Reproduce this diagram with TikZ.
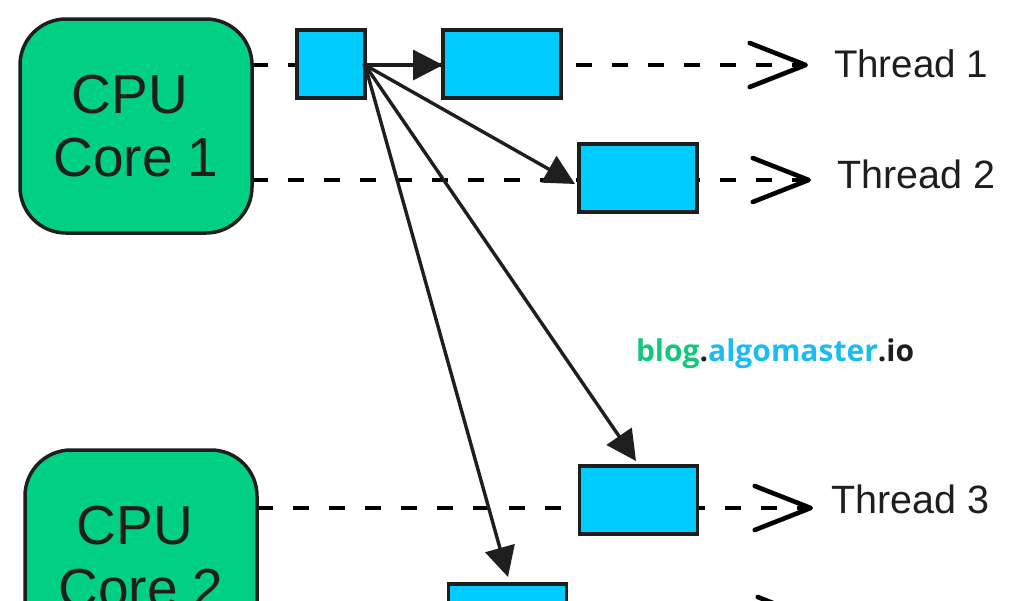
\documentclass[tikz,border=0pt]{standalone}
\usepackage{fontspec}
\setmainfont{Liberation Sans}
\newfontfamily\markfont{Open Sans}
\usetikzlibrary{arrows.meta,backgrounds}
\definecolor{inkdark}{HTML}{1E1E1E}
\definecolor{coregreen}{HTML}{00D084}
\definecolor{taskblue}{HTML}{00CCFF}
\definecolor{markgreen}{HTML}{14C77F}
\definecolor{markblue}{HTML}{1CBBF5}
\tikzset{
  core/.style={draw=inkdark,fill=coregreen,rounded corners=46pt,minimum width=232pt,minimum height=214pt,
    text=inkdark,align=center,font=\fontsize{55}{63}\selectfont},
  task/.style={draw=inkdark,fill=taskblue,minimum width=#1,minimum height=68pt},
  task/.default=118pt,
  label/.style={text=inkdark,anchor=base west,font=\fontsize{#1}{46}\selectfont},
  label/.default=38.5,
  threadline/.style={line width=3.4pt,dash pattern=on 16pt off 20pt,
    -{Straight Barb[length=56pt,width=44pt,line width=4.6pt,round]}},
  flow/.style={line width=3.4pt,-{Triangle[length=30pt,width=30pt]},shorten <=-1pt},
  every picture/.style={line width=3.5pt,inner sep=0pt,outer sep=0pt,line cap=round,color=inkdark},
}

\begin{document}
\begin{tikzpicture}[x=1pt,y=-1pt]
  \useasboundingbox (0,0) rectangle (1015,600);
  \clip (0,0) rectangle (1015,600);
  % cores
  \node[core] (core1) at (136,126){CPU\hspace*{12pt}\\Core 1};
  \node[core] (core2) at (141,557){CPU\hspace*{12pt}\\Core 2};
  % tasks
  \node[task=68pt] (small) at (331,64){};
  \node[task] (task1) at (502,64){};
  \node[task] (task2) at (638,178){};
  \node[task] (task3) at (638.5,500){};
  \node[task] (task4) at (507.5,618){};
  % free ends
  \coordinate (tip1) at (808,65);
  \coordinate (tip2) at (811,180);
  \coordinate (tip3) at (813,508);
  \coordinate (tip4) at (816,619);
  \coordinate (in1) at (443,65);
  \coordinate (in2) at (575,184);
  \coordinate (in3) at (636,461);
  \coordinate (in4) at (508,577);
  % the threads run behind the boxes
  \begin{pgfonlayer}{background}
    \draw[threadline] (core1.east |- tip1) -- (tip1);
    \draw[threadline] (core1.east |- tip2) -- (tip2);
    \draw[threadline] (core2.east |- tip3) -- (tip3);
    \draw[threadline] (core2.east |- tip4) -- (tip4);
  \end{pgfonlayer}
  % moves between the tasks
  \draw[flow] (small.east |- in1) -- (in1);
  \draw[flow] (small.east |- in1) -- (in2);
  \draw[flow] (small.east |- in1) -- (in3);
  \draw[flow] (small.east |- in1) -- (in4);
  % names
  \node[label] (name1) at (834,77){Thread 1};
  \node[label=39.5] (name2) at (837,188){Thread 2};
  \node[label=39.5] (name3) at (831,513){Thread 3};
  \node[anchor=base west,font=\fontsize{30}{30}\selectfont\markfont\bfseries] (mark) at (636,361)
    {\textcolor{markgreen}{blog}\textcolor{inkdark}{.}\textcolor{markblue}{algomaster}\textcolor{inkdark}{.io}};
\end{tikzpicture}
\end{document}
